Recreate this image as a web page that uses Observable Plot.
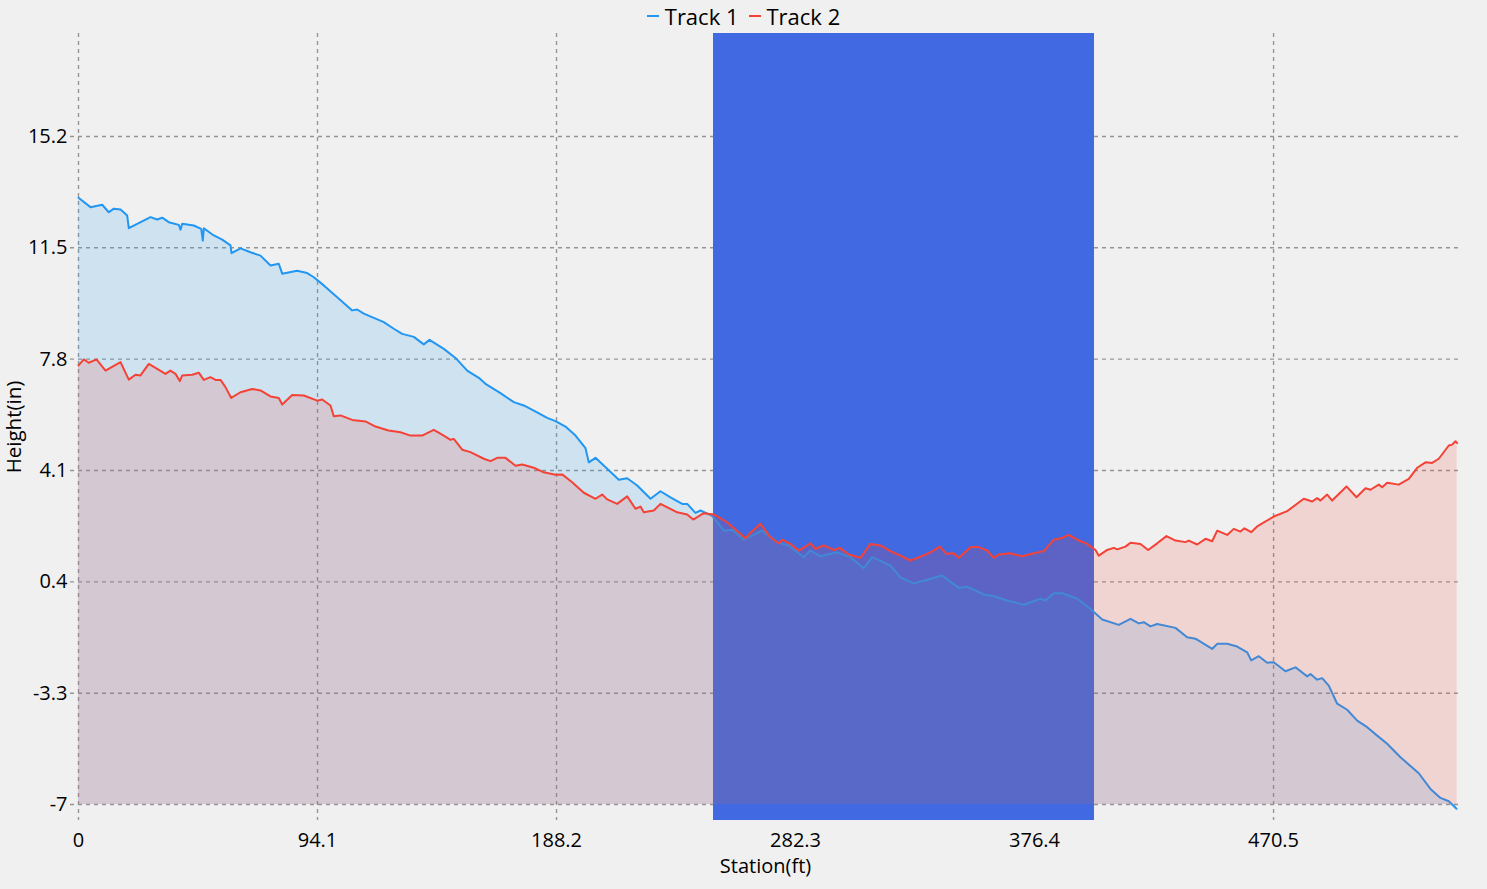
<!DOCTYPE html>
<html><head><meta charset="utf-8">
<script src="https://cdn.jsdelivr.net/npm/d3@7"></script>
<script src="https://cdn.jsdelivr.net/npm/@observablehq/plot@0.6"></script>
<style>
html,body{margin:0;padding:0;background:#f0f0f0;}
#wrap{position:relative;width:1487px;height:889px;overflow:hidden;font-family:"Open Sans",sans-serif;}
#chart{position:absolute;left:0;top:0;}
#legend{position:absolute;top:-7px;left:0;width:1487px;text-align:center;font-size:22px;line-height:30px;color:#000;white-space:nowrap;}
.item{display:inline-flex;align-items:center;}
.item + .item{margin-left:10px;}
.sw{display:inline-block;width:12px;height:2px;margin-right:6px;}
</style></head>
<body><div id="wrap"><div id="chart"></div><div id="legend"></div></div>
<script>
const seriesNames = ["Track 1", "Track 2"];
const seriesColors = ["#2196F3", "#F44336"];
const highlightStart = [250];
const highlightEnd = [400];
const baseHeight = -7;
const xTicks = [0, 94.1, 188.2, 282.3, 376.4, 470.5];
const xTickLabels = ["0", "94.1", "188.2", "282.3", "376.4", "470.5"];
const yTicks = [-7, -3.3, 0.4, 4.1, 7.8, 11.5, 15.2];
const yTickLabels = ["-7", "-3.3", "0.4", "4.1", "7.8", "11.5", "15.2"];
const xLabel = "Station(ft)";
const yLabel = "Height(in)";

const track1Station = [0,4.72,9.33,11.93,13.90,16.54,19.17,19.80,28.35,30.98,
32.95,35.55,39.49,40.16,40.83,45.39,48.31,48.94,49.33,53.27,
56.57,59.84,60.24,63.78,67.72,71.65,75.59,78.86,80.20,86.10,
90.04,92.64,96.57,101.85,107.76,109.72,112.32,120.20,124.13,127.44,
132.01,135.94,138.19,143.82,148.43,153.03,157.60,160.24,166.14,171.38,
175.31,179.25,184.53,187.79,191.73,195.67,199.61,200.91,203.54,208.15,
212.72,216.02,219.96,225.20,229.13,233.07,237.68,239.65,242.91,244.88,
249.49,254.05,257.36,261.93,269.17,275.08,279.65,285.55,288.19,292.13,
298.70,303.94,309.17,312.48,319.69,323.62,328.86,334.13,340.04,342.64,
346.57,349.88,356.42,360.35,365.63,372.16,378.74,380.71,383.98,387.28,
393.19,398.42,403.03,409.57,414.17,417.44,419.41,422.05,424.69,431.89,
436.49,439.76,446.34,448.31,452.24,456.18,460.12,461.69,464.68,467.99,
470.59,475.20,479.13,483.74,485.04,487.67,489.64,492.24,495.55,499.49,
503.42,507.36,511.30,515.23,520.47,527.67,532.27,536.22,539.49,542.52];
const track1Height = [13.16,12.85,12.93,12.68,12.80,12.77,12.57,12.15,12.52,12.44,
12.50,12.35,12.26,12.10,12.30,12.24,12.13,11.74,12.15,11.91,
11.77,11.58,11.32,11.48,11.35,11.24,10.91,10.97,10.64,10.74,
10.66,10.52,10.25,9.86,9.42,9.45,9.31,9.03,8.81,8.64,
8.54,8.29,8.44,8.14,7.84,7.42,7.18,6.98,6.67,6.37,
6.26,6.09,5.85,5.74,5.56,5.26,4.84,4.37,4.52,4.16,
3.79,3.84,3.60,3.16,3.41,3.21,2.99,2.99,2.69,2.77,
2.59,2.10,2.13,1.80,2.10,1.72,1.61,1.22,1.44,1.25,
1.38,1.22,0.85,1.22,0.94,0.55,0.35,0.47,0.61,0.44,
0.20,0.24,-0.02,-0.08,-0.22,-0.36,-0.16,-0.22,0.02,0.02,
-0.16,-0.50,-0.85,-1.03,-0.83,-0.98,-0.94,-1.08,-1.00,-1.13,
-1.44,-1.49,-1.83,-1.66,-1.66,-1.75,-1.94,-2.21,-2.07,-2.29,
-2.27,-2.57,-2.44,-2.74,-2.66,-2.85,-2.80,-3.05,-3.65,-3.85,
-4.21,-4.43,-4.71,-4.98,-5.43,-5.96,-6.48,-6.78,-6.89,-7.14];

const track2Station = [0,2.09,4.06,7.09,10.63,16.54,19.80,22.44,24.41,27.68,
34.25,36.22,38.19,39.88,40.83,44.76,47.36,49.33,51.97,53.94,
55.91,57.87,60.12,63.78,68.39,71.65,75.59,78.86,80.20,84.13,
88.70,93.98,95.94,99.21,100.51,103.15,107.76,112.99,116.93,122.05,
126.77,130.71,135.31,139.88,143.82,146.46,147.76,151.06,154.33,159.57,
162.20,164.84,168.11,172.05,174.68,179.25,183.19,187.79,190.43,194.37,
198.94,203.54,206.18,208.15,212.09,216.02,219.29,221.26,222.56,226.50,
229.13,235.71,239.65,242.01,246.18,250.12,255.39,262.60,264.57,268.50,
272.44,275.71,277.05,280.31,283.58,288.19,290.16,293.42,297.36,299.72,
303.27,307.87,311.81,315.75,319.69,323.62,327.56,331.50,335.43,339.09,
341.73,344.61,346.57,351.18,353.82,357.76,360.35,362.32,366.93,371.54,
376.10,380.04,383.98,387.28,389.88,393.19,397.13,400.39,401.69,405.00,
407.60,408.94,412.20,414.17,418.11,421.14,424.69,428.35,431.89,435.83,
437.13,440.43,443.70,446.34,448.31,452.24,454.84,457.48,459.05,461.69,
464.05,470.59,475.87,482.40,485.71,487.67,488.97,491.61,493.58,499.21,
503.15,506.69,508.66,511.93,513.27,515.23,519.80,523.74,527.05,530.31,
532.95,535.55,539.49,540.83,542.13,542.79];
const track2Height = [7.59,7.79,7.68,7.79,7.42,7.70,7.12,7.28,7.26,7.64,
7.31,7.42,7.31,7.07,7.26,7.28,7.35,7.11,7.20,7.11,
7.11,6.87,6.51,6.70,6.81,6.76,6.56,6.51,6.29,6.61,
6.59,6.42,6.46,6.26,5.90,5.93,5.78,5.73,5.56,5.43,
5.37,5.26,5.26,5.45,5.26,5.12,5.15,4.79,4.71,4.49,
4.41,4.52,4.52,4.26,4.30,4.19,4.04,3.96,3.97,3.71,
3.36,3.16,3.30,3.14,2.99,3.24,2.83,2.90,2.71,2.77,
2.99,2.71,2.64,2.47,2.68,2.64,2.38,1.85,2.03,2.33,
1.88,1.68,1.80,1.66,1.44,1.68,1.50,1.61,1.46,1.53,
1.31,1.20,1.66,1.61,1.42,1.27,1.11,1.24,1.38,1.57,
1.33,1.35,1.20,1.55,1.57,1.44,1.20,1.31,1.35,1.25,
1.35,1.42,1.80,1.86,1.96,1.80,1.66,1.46,1.27,1.46,
1.53,1.48,1.57,1.70,1.66,1.46,1.68,1.92,1.77,1.72,
1.77,1.64,1.83,1.75,2.10,1.96,2.16,2.07,2.18,2.05,
2.24,2.57,2.75,3.16,3.07,3.18,3.10,3.30,3.10,3.57,
3.21,3.51,3.46,3.63,3.54,3.69,3.63,3.82,4.19,4.37,
4.35,4.49,4.93,4.96,5.07,5.01];

const track1 = track1Station.map((s, i) => ({station: s, height: track1Height[i]}));
const track2 = track2Station.map((s, i) => ({station: s, height: track2Height[i]}));
const highlight = highlightStart.map((s, i) => ({start: s, end: highlightEnd[i]}));

const gridStyle = {stroke: "#959595", strokeWidth: 1.4, strokeDasharray: "4,4"};

const chart = Plot.plot({
  width: 1487, height: 889,
  marginLeft: 70, marginRight: 27, marginTop: 33, marginBottom: 69,
  style: {background: "#f0f0f0", fontFamily: "'Open Sans', sans-serif", fontSize: "20px", color: "#000"},
  x: {domain: [-3.15, 544.1]},
  y: {domain: [-7.53, 18.62]},
  marks: [
    Plot.ruleX(xTicks, gridStyle),
    Plot.ruleY(yTicks, gridStyle),
    Plot.rect(highlight, {x1: "start", x2: "end", fill: "#4169E1"}),
    Plot.areaY(track1, {x: "station", y1: baseHeight, y2: "height", fill: seriesColors[0], fillOpacity: 0.155}),
    Plot.line(track1, {x: "station", y: "height", stroke: seriesColors[0], strokeWidth: 2}),
    Plot.areaY(track2, {x: "station", y1: baseHeight, y2: "height", fill: seriesColors[1], fillOpacity: 0.16}),
    Plot.line(track2, {x: "station", y: "height", stroke: seriesColors[1], strokeWidth: 2}),
    Plot.axisX(xTicks, {tickSize: 0, tickPadding: 12, label: null, tickFormat: (d, i) => xTickLabels[i], fill: "#000", fontSize: 20}),
    Plot.axisY(yTicks, {tickSize: 0, tickPadding: 3, label: null, tickFormat: (d, i) => yTickLabels[i], fill: "#000", fontSize: 20}),
    Plot.text([xLabel], {frameAnchor: "bottom", dy: 46, lineAnchor: "middle", textAnchor: "middle", text: d => d, fontSize: 20, fill: "#000"}),
    Plot.text([yLabel], {frameAnchor: "left", dx: -56, rotate: -90, lineAnchor: "middle", textAnchor: "middle", text: d => d, fontSize: 20.5, fill: "#000"})
  ]
});
document.getElementById("chart").appendChild(chart);

const legend = document.getElementById("legend");
seriesNames.forEach((name, i) => {
  const item = document.createElement("span");
  item.className = "item";
  const sw = document.createElement("span");
  sw.className = "sw";
  sw.style.background = seriesColors[i];
  item.appendChild(sw);
  item.appendChild(document.createTextNode(name));
  legend.appendChild(item);
});
</script>
</body></html>
